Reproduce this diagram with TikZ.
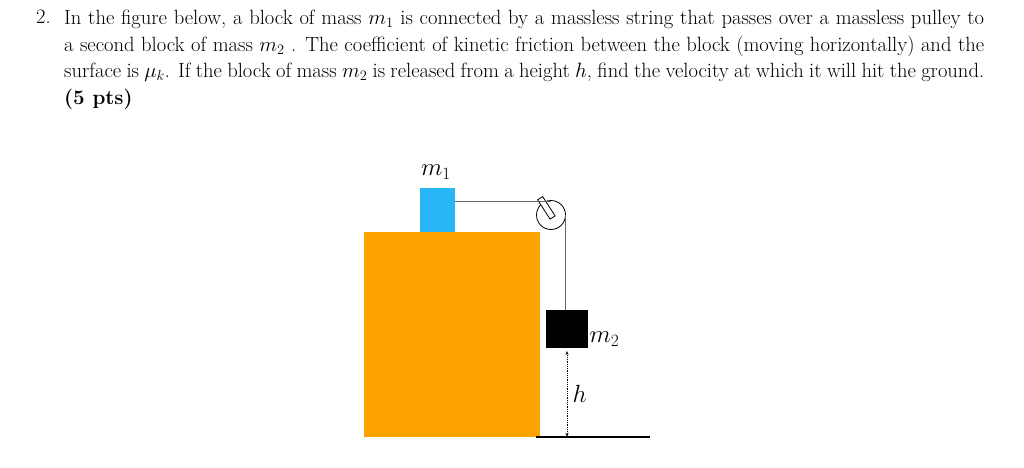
\documentclass[tikz,border=0pt]{standalone}
\usetikzlibrary{arrows.meta}
\begin{document}
\begin{tikzpicture}[x=1pt,y=-1pt,
  txt/.style={anchor=north west,inner sep=0pt,font=\fontsize{20.6}{26.5}\selectfont},
  string/.style={draw=gray!80!black,line width=1pt}]
\useasboundingbox (0,0) rectangle (1024,467);
\node[txt] (num) at (36,10) {2.};
\node[txt,text width=920pt,align=justify] (q) at (64,10) {In the figure below, a block of mass $m_1$ is connected by a massless string that passes over a massless pulley to a second block of mass $m_2$~. The coefficient of kinetic friction between the block (moving horizontally) and the surface is $\mu_k$. If the block of mass $m_2$ is released from a height $h$, find the velocity at which it will hit the ground.\hfill\textbf{(5 pts)}};
% table block
\fill[fill={rgb,255:red,252;green,163;blue,0}] (364,232) rectangle (540,437);
\node[fill={rgb,255:red,40;green,182;blue,246},minimum width=35pt,minimum height=44pt,inner sep=0pt] (m1) at (437.5,210) {};
\node[font=\fontsize{23}{23}\selectfont] (m1l) at (436,172) {$m_1$};
% pulley
\coordinate (pc) at (551,215);
\node[draw,circle,minimum size=29pt,inner sep=0pt,line width=0.8pt] (pul) at (pc) {};
\draw[line width=0.8pt,fill=white,rotate around={123:(pc)}] ([shift={(-3,-3)}]pc) rectangle ([shift={(20,3)}]pc);
\node[fill=black,minimum width=42pt,minimum height=38pt,inner sep=0pt] (m2) at (567,329) {};
\node[font=\fontsize{23}{23}\selectfont,anchor=west] (m2l) at (586,339) {$m_2$};
\draw[string] (m1.east |- 0,201) -- (551,201);
\draw[string] (565,215) -- (m2.north -| 565,0);
% ground
\coordinate (g1) at (536,437);
\coordinate (g2) at (650,437);
\draw[line width=1.2pt] (g1) -- (g2);
\coordinate (hb) at (567,437);
\draw[densely dotted,line width=0.8pt,{Stealth[length=4pt]}-{Stealth[length=4pt]}] (m2.south |- 0,351) -- (hb);
\node[font=\fontsize{23}{23}\selectfont,anchor=west] (hl) at (569,394) {$h$};
\end{tikzpicture}
\end{document}
